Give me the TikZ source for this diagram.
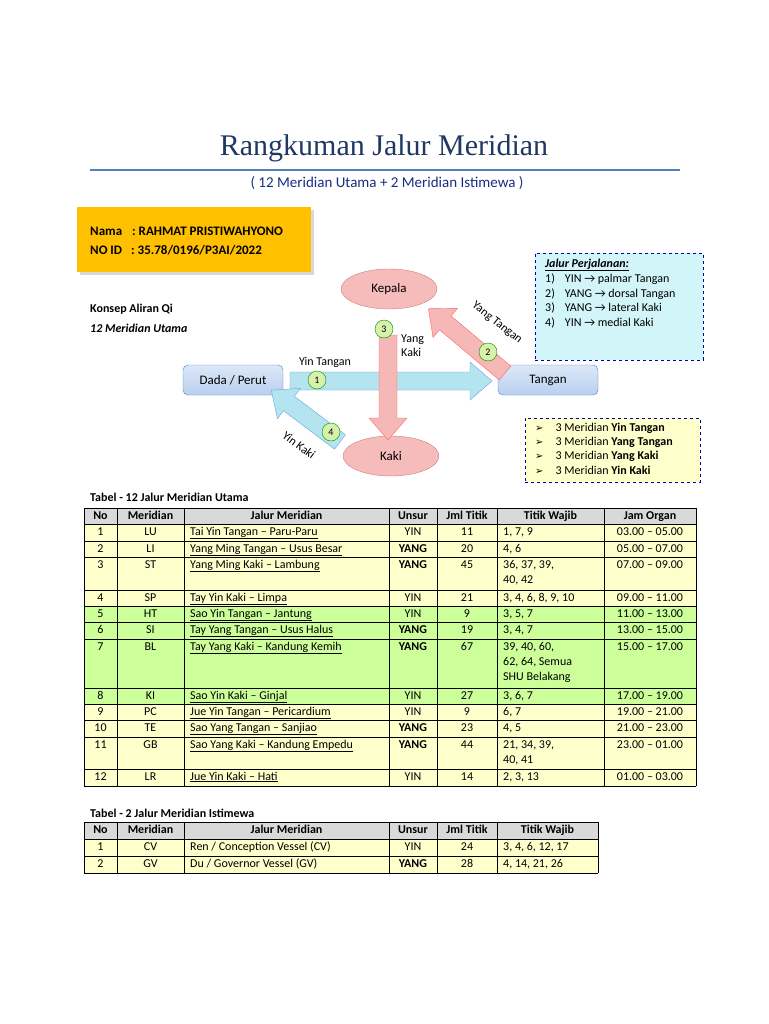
\documentclass[tikz,border=0pt]{standalone}
\usepackage{fontspec}
\setmainfont{Carlito}
\newfontfamily\titlefont{Liberation Serif}
\newfontfamily\symfont{DejaVu Sans}
\usetikzlibrary{shapes.geometric,shadows}
\definecolor{tblue}{RGB}{31,56,100}
\definecolor{lineblue}{RGB}{79,129,189}
\definecolor{orng}{RGB}{255,192,0}
\definecolor{ycell}{RGB}{255,255,204}
\definecolor{gcell}{RGB}{204,255,153}
\definecolor{hcell}{RGB}{217,217,217}
\definecolor{cyanbox}{RGB}{210,245,250}
\definecolor{pinkA}{RGB}{244,170,170}
\definecolor{cyanA}{RGB}{180,228,240}
\definecolor{boxbl}{RGB}{185,208,240}
\definecolor{circg}{RGB}{215,240,170}
\frenchspacing
\tikzset{
  t/.style={font=\fontsize{12}{15}\selectfont, inner sep=0pt, text height=9, text depth=3},
  cellc/.style={t, anchor=north},
  celll/.style={t, anchor=north west, align=flush left},
  ovl/.style={ellipse, draw=red!60!black!50, fill=pinkA!80, minimum width=96, minimum height=40, font=\fontsize{13}{15}\selectfont},
  rbox/.style={rounded corners=5, draw=lineblue, top color=boxbl!50, bottom color=boxbl, minimum width=100, minimum height=30, font=\fontsize{13}{15}\selectfont},
  pinkarrow/.style={draw=red!60, fill=pinkA!85, line join=miter},
  cyanarrow/.style={draw=cyan!60!blue!60, fill=cyanA, line join=miter},
  numc/.style={circle, draw=green!55!black, fill=circg, minimum size=18, inner sep=0pt, font=\fontsize{10}{12}\selectfont},
  lab/.style={font=\fontsize{12}{14}\selectfont, inner sep=0pt},
}
% #1 style, #2 x, #3 y, #4 angle, #5 length (tail at (x,y))
\newcommand\farrow[5]{%
  \draw[#1, shift={(#2,#3)}, rotate=#4] (0,-9) -- (#5-22,-9) -- (#5-22,-19) -- (#5,0) -- (#5-22,19) -- (#5-22,9) -- (0,9) -- cycle;}
\newcommand\rowtext[8]{%
  \node[cellc] at (100.5,#1+2) {#2};
  \node[cellc] at (150.5,#1+2) {#3};
  \node[celll] at (190,#1+2) {\underline{#4}};
  \node[cellc] at (413,#1+2) {#5};
  \node[cellc] at (467,#1+2) {#6};
  \node[celll,text width=104] at (503,#1+2) {#7};
  \node[cellc] at (650,#1+2) {#8};
}
\newcommand\rowtextb[7]{%
  \node[cellc] at (100.5,#1+2) {#2};
  \node[cellc] at (150.5,#1+2) {#3};
  \node[celll] at (190,#1+2) {#4};
  \node[cellc] at (413,#1+2) {#5};
  \node[cellc] at (467,#1+2) {#6};
  \node[celll] at (503,#1+2) {#7};
}
\begin{document}
\begin{tikzpicture}[x=1pt,y=-1pt]
\useasboundingbox[fill=white] (0,0) rectangle (768,1024);
% title
\node[font=\titlefont\fontsize{30}{33}\selectfont, text=tblue] (title) at (384,148) {Rangkuman Jalur Meridian};
\draw[lineblue, line width=1.2] (90,170) -- (680,170);
\node[font=\fontsize{15}{17}\selectfont, text=tblue!80!blue] (sub) at (387,183) {( 12 Meridian Utama + 2 Meridian Istimewa )};
% name box
\node[draw=none, fill=orng, minimum width=234, minimum height=65, anchor=north west, drop shadow={opacity=0.3}] (namebox) at (77,207) {};
\node[anchor=west, font=\bfseries\fontsize{13}{15}\selectfont, inner sep=0pt] (nm) at (90,231) {Nama\hspace{10pt}: RAHMAT PRISTIWAHYONO};
\node[anchor=west, font=\bfseries\fontsize{13}{15}\selectfont, inner sep=0pt] (id) at (90,250) {NO ID\hspace{9pt}: 35.78/0196/P3AI/2022};
% konsep
\node[anchor=west, font=\bfseries\fontsize{12}{14}\selectfont, inner sep=0pt] (konsep) at (90,309) {Konsep Aliran Qi};
\node[anchor=west, font=\bfseries\itshape\fontsize{12}{14}\selectfont, inner sep=0pt] (mu) at (90,328) {12 Meridian Utama};
% jalur box
\node[draw=blue!70!black, dashed, fill=cyanbox, minimum width=168, minimum height=107, anchor=north west] (jbox) at (535,253) {};
\node[anchor=west, lab, font=\bfseries\itshape\fontsize{12}{14}\selectfont] (jt) at (545,265) {\underline{Jalur Perjalanan:}};
\node[anchor=west, lab] (j1) at (545,279) {1)\hspace{10pt}YIN → palmar Tangan};
\node[anchor=west, lab] (j2) at (545,294) {2)\hspace{10pt}YANG → dorsal Tangan};
\node[anchor=west, lab] (j3) at (545,308) {3)\hspace{10pt}YANG → lateral Kaki};
\node[anchor=west, lab] (j4) at (545,323) {4)\hspace{10pt}YIN → medial Kaki};
% yellow box
\node[draw=blue!70!black, dashed, fill=ycell, minimum width=175, minimum height=64, anchor=north west] (ybox) at (525,418) {};
\node[anchor=west, lab] (y1) at (535,428) {{\symfont\fontsize{10}{12}\selectfont ➢}\hspace{12pt}3 Meridian \textbf{Yin Tangan}};
\node[anchor=west, lab] (y2) at (535,442) {{\symfont\fontsize{10}{12}\selectfont ➢}\hspace{12pt}3 Meridian \textbf{Yang Tangan}};
\node[anchor=west, lab] (y3) at (535,456) {{\symfont\fontsize{10}{12}\selectfont ➢}\hspace{12pt}3 Meridian \textbf{Yang Kaki}};
\node[anchor=west, lab] (y4) at (535,470) {{\symfont\fontsize{10}{12}\selectfont ➢}\hspace{12pt}3 Meridian \textbf{Yin Kaki}};
% diagram
\node[ovl] (kepala) at (389,289) {Kepala};
\node[ovl] (kaki) at (391,456) {Kaki};
\node[rbox] (dada) at (233,380) {Dada / Perut};
\node[rbox] (tangan) at (548,380) {Tangan};
\farrow{cyanarrow}{290}{381}{0}{202}
\farrow{pinkarrow}{388}{335}{-90}{105}
\farrow{pinkarrow}{505}{373}{140}{100}
\farrow{cyanarrow}{340}{442}{143}{86}
\node[numc] (n1) at (317,380) {1};
\node[numc] (n2) at (488,352) {2};
\node[numc] (n3) at (384,329) {3};
\node[numc] (n4) at (331,432) {4};
\node[lab] (l1) at (325,362) {Yin Tangan};
\node[lab, anchor=north west, align=left, font=\fontsize{12}{14}\selectfont] (l3) at (401,335) {Yang\\Kaki};
\node[lab, rotate=-38] (l2) at (497,323) {Yang Tangan};
\node[lab, rotate=-37] (l4) at (299,445) {Yin Kaki};
% table 1
\node[anchor=west, font=\bfseries\fontsize{12}{14}\selectfont, inner sep=0pt] (cap1) at (90,497) {Tabel - 12 Jalur Meridian Utama};
\fill[hcell] (84,508) rectangle (696,524);
\fill[ycell] (84,524) rectangle (696,606);
\fill[gcell] (84,606) rectangle (696,704);
\fill[ycell] (84,704) rectangle (696,786);
\foreach \yy in {508,524,541,557,590,606,622,639,688,704,720,737,769,786}
  \draw[line width=1] (84,\yy) -- (696,\yy);
\foreach \xx in {84,117,184,389,437,497,604,696}
  \draw[line width=1] (\xx,508) -- (\xx,786);
\foreach \xx/\tx in {100.5/No,150.5/Meridian,286.5/Jalur Meridian,413/Unsur,467/Jml Titik,550.5/Titik Wajib,650/Jam Organ}
  \node[cellc, font=\bfseries\fontsize{12}{15}\selectfont] at (\xx,510) {\tx};
\rowtext{524}{1}{LU}{Tai Yin Tangan – Paru-Paru}{YIN}{11}{1, 7, 9}{03.00 – 05.00}
\rowtext{541}{2}{LI}{Yang Ming Tangan – Usus Besar}{\textbf{YANG}}{20}{4, 6}{05.00 – 07.00}
\rowtext{557}{3}{ST}{Yang Ming Kaki – Lambung}{\textbf{YANG}}{45}{36, 37, 39,\\40, 42}{07.00 – 09.00}
\rowtext{590}{4}{SP}{Tay Yin Kaki – Limpa}{YIN}{21}{3, 4, 6, 8, 9, 10}{09.00 – 11.00}
\rowtext{606}{5}{HT}{Sao Yin Tangan – Jantung}{YIN}{9}{3, 5, 7}{11.00 – 13.00}
\rowtext{622}{6}{SI}{Tay Yang Tangan – Usus Halus}{\textbf{YANG}}{19}{3, 4, 7}{13.00 – 15.00}
\rowtext{639}{7}{BL}{Tay Yang Kaki – Kandung Kemih}{\textbf{YANG}}{67}{39, 40, 60,\\62, 64, Semua\\SHU Belakang}{15.00 – 17.00}
\rowtext{688}{8}{KI}{Sao Yin Kaki – Ginjal}{YIN}{27}{3, 6, 7}{17.00 – 19.00}
\rowtext{704}{9}{PC}{Jue Yin Tangan – Pericardium}{YIN}{9}{6, 7}{19.00 – 21.00}
\rowtext{720}{10}{TE}{Sao Yang Tangan – Sanjiao}{\textbf{YANG}}{23}{4, 5}{21.00 – 23.00}
\rowtext{737}{11}{GB}{Sao Yang Kaki – Kandung Empedu}{\textbf{YANG}}{44}{21, 34, 39,\\40, 41}{23.00 – 01.00}
\rowtext{769}{12}{LR}{Jue Yin Kaki – Hati}{YIN}{14}{2, 3, 13}{01.00 – 03.00}
% table 2
\node[anchor=west, font=\bfseries\fontsize{12}{14}\selectfont, inner sep=0pt] (cap2) at (90,813) {Tabel - 2 Jalur Meridian Istimewa};
\fill[hcell] (84,822) rectangle (598,839);
\fill[ycell] (84,839) rectangle (598,873);
\foreach \yy in {822,839,856,873}
  \draw[line width=1] (84,\yy) -- (598,\yy);
\foreach \xx in {84,117,184,389,437,497,598}
  \draw[line width=1] (\xx,822) -- (\xx,873);
\foreach \xx/\tx in {100.5/No,150.5/Meridian,286.5/Jalur Meridian,413/Unsur,467/Jml Titik,547.5/Titik Wajib}
  \node[cellc, font=\bfseries\fontsize{12}{15}\selectfont] at (\xx,824) {\tx};
\rowtextb{839}{1}{CV}{Ren / Conception Vessel (CV)}{YIN}{24}{3, 4, 6, 12, 17}
\rowtextb{856}{2}{GV}{Du / Governor Vessel (GV)}{\textbf{YANG}}{28}{4, 14, 21, 26}
\end{tikzpicture}
\end{document}
